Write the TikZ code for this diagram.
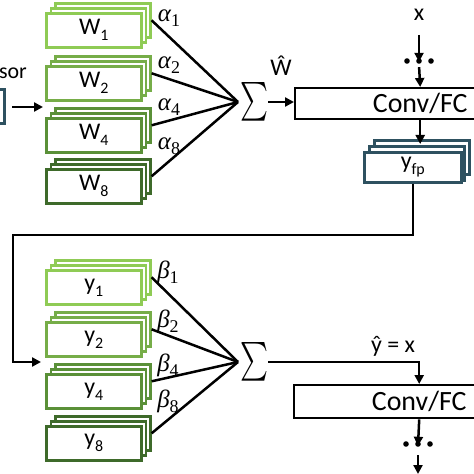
\documentclass[tikz,border=0pt]{standalone}
\usepackage{fontspec}
\setmainfont{Carlito}
\newfontfamily\grk{Liberation Serif}
\usetikzlibrary{arrows.meta}
\definecolor{gA}{HTML}{8FCB55}
\definecolor{gB}{HTML}{76AD48}
\definecolor{gC}{HTML}{5A9038}
\definecolor{gD}{HTML}{3E6A2A}
\definecolor{slate}{HTML}{2E5160}
\newcommand{\lowsub}[1]{\raisebox{-6bp}{\fontsize{16}{16}\selectfont #1}}
\newcommand{\grsub}[2]{{\grk\fontsize{25}{28}\selectfont\itshape #1\upshape\raisebox{-5bp}{\fontsize{18}{18}\selectfont #2}}}
\tikzset{
  lyr/.style={draw=#1, line width=2.6bp, fill=white, rectangle, inner sep=0pt,
    minimum width=95bp, minimum height=34bp, anchor=north west},
  lbl/.style={font=\fontsize{24}{28}\selectfont},
  conn/.style={line width=2.5bp, draw=black},
  arr/.style={conn, -{Triangle[length=9bp,width=9bp]}},
  convbox/.style={draw=black, line width=2.4bp, fill=white, rectangle, inner sep=0pt,
    minimum width=250bp, minimum height=31bp, anchor=north west,
    font=\fontsize{28}{32}\selectfont},
  wlab/.style={inner sep=0pt},
  sumnode/.style={inner sep=0pt},
  dotnode/.style={inner sep=0pt, minimum width=26bp, minimum height=8bp},
}
\newcommand{\mystack}[5]{%
  \node[lyr=#4] (#1c) at (#2+9,#3-10) {};
  \node[lyr=#4] (#1b) at (#2+4.5,#3-5) {};
  \node[lyr=#4,lbl] (#1) at (#2,#3) {#5};
}
\begin{document}
\begin{tikzpicture}[x=1bp,y=-1bp]
\useasboundingbox (0,0) rectangle (474,474);
\clip (0,0) rectangle (474,474);

% left input
\node[draw=slate, line width=2.6bp, rectangle, minimum width=90bp, minimum height=34bp,
  anchor=north east] (tens) at (6,88) {};
\node[anchor=base east, inner sep=0pt, font=\fontsize{22}{24}\selectfont] (tenslab) at (27,79) {sor};
\coordinate (win) at (43,107);
\draw[arr] ([xshift=6bp]tens.east |- win) -- (win);

% W stacks
\mystack{W1}{45}{12}{gA}{W\lowsub{1}}
\mystack{W2}{45}{65}{gB}{W\lowsub{2}}
\mystack{W4}{45}{117}{gC}{W\lowsub{4}}
\mystack{W8}{45}{168}{gD}{W\lowsub{8}}

\node[sumnode] (sum1) at (254,102) {\resizebox{28bp}{29bp}{$\sum$}};
\coordinate (m1) at (238,102);
\foreach \s in {W1c,W2c,W4c,W8c} \draw[conn] (\s.east) -- (m1);

\node[wlab] (a1) at (169,18) {\grsub{α}{1}};
\node[wlab] (a2) at (169,65) {\grsub{α}{2}};
\node[wlab] (a4) at (169,107) {\grsub{α}{4}};
\node[wlab] (a8) at (169,146) {\grsub{α}{8}};

% top conv
\node[convbox] (conv1) at (294,87) {Conv/FC};
\node[lbl, inner sep=0pt] (what) at (281,66) {Ŵ};
\draw[arr] (sum1.east) -- (conv1.west |- sum1.east);

\node[lbl, inner sep=0pt] (xin) at (419,15) {x};
\node[dotnode] (dots1) at (419,61) {};
\foreach \dx in {-12,0,12} \fill ([xshift=\dx bp]dots1.center) circle (2.8bp);
\draw[arr, shorten <=14bp] (xin.south) -- ([yshift=-5bp]dots1.north);
\draw[arr, shorten <=2bp] (dots1.south) -- (conv1.north);

% y_fp
\node[lyr=slate] (yfpc) at (373,139) {};
\node[lyr=slate] (yfpb) at (368,145) {};
\node[lyr=slate, lbl, minimum width=97bp, minimum height=30bp] (yfp) at (363,151) {y\lowsub{fp}};
\draw[arr] (conv1.south) -- ([yshift=-5bp]conv1.south |- yfpc.north);

\coordinate (lft) at (13,235);
\coordinate (yin) at (41,362);
\draw[arr] (yfp.south) |- (lft) |- (yin);

% y stacks
\mystack{Y1}{45}{269}{gA}{y\lowsub{1}}
\mystack{Y2}{45}{321}{gB}{y\lowsub{2}}
\mystack{Y4}{45}{373}{gC}{y\lowsub{4}}
\mystack{Y8}{45}{425}{gD}{y\lowsub{8}}

\node[sumnode] (sum2) at (254,362) {\resizebox{28bp}{29bp}{$\sum$}};
\coordinate (m2) at (238,362);
\foreach \s in {Y1c,Y2c,Y4c,Y8c} \draw[conn] (\s.east) -- (m2);

\node[wlab] (b1) at (168,272) {\grsub{β}{1}};
\node[wlab] (b2) at (168,321) {\grsub{β}{2}};
\node[wlab] (b4) at (168,365) {\grsub{β}{4}};
\node[wlab] (b8) at (168,401) {\grsub{β}{8}};

% bottom conv
\node[convbox, minimum height=33bp] (conv2) at (293,384) {Conv/FC};
\node[lbl, inner sep=0pt] (yhat) at (393,346) {ŷ = x};
\draw[arr] (sum2.east) -| (conv2.north);

\node[dotnode] (dots2) at (418,444) {};
\foreach \dx in {-12,0,12} \fill ([xshift=\dx bp]dots2.center) circle (2.8bp);
\draw[arr] (conv2.south) -- ([yshift=-6bp]dots2.north);
\coordinate (out) at (418,474);
\draw[arr, shorten <=7bp] (dots2.south) -- (out);
\end{tikzpicture}
\end{document}
